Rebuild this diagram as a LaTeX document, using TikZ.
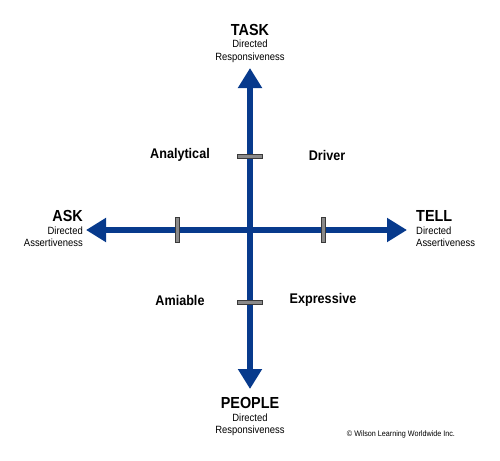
\documentclass[tikz,border=0pt]{standalone}
\usepackage{fontspec}
\setmainfont[FakeStretch=0.9]{Liberation Sans}
\usetikzlibrary{positioning, arrows.meta}
\definecolor{axisblue}{HTML}{073A8C}
\definecolor{tickgray}{HTML}{8A8A8A}
\definecolor{tickedge}{HTML}{3A3A3A}

\tikzset{
  axisline/.style={axisblue, line width=5.5pt,
    {Triangle[width=23pt, length=20pt]}-{Triangle[width=23pt, length=20pt]}},
  tickmark/.style={rectangle, fill=tickgray, draw=tickedge, line width=0.6pt, inner sep=0pt},
  quad/.style={font=\fontsize{14}{16}\selectfont\bfseries},
  pole/.style={font=\fontsize{10.5}{12.8}\selectfont, inner sep=0pt}
}

\begin{document}
\begin{tikzpicture}[x=1pt, y=-1pt]
  \useasboundingbox (0,0) rectangle (500,460);

  % Axes
  \coordinate (o) at (250,230);
  \coordinate (top) at (250,68);
  \coordinate (bot) at (250,389);
  \coordinate (lft) at (86,230);
  \coordinate (rgt) at (407,230);
  \draw[axisline] (bot) -- (top);
  \draw[axisline] (lft) -- (rgt);

  % Ticks
  \foreach \y/\n in {156/tu, 302/td} {
    \node[tickmark, minimum width=25pt, minimum height=4pt] (\n) at (250,\y) {};
  }
  \foreach \x/\n in {177/tl, 323/tr} {
    \node[tickmark, minimum width=4pt, minimum height=25pt] (\n) at (\x,230) {};
  }

  % Quadrants
  \node[quad] (analytical) at (180,155) {Analytical};
  \node[quad] (driver) at (327,155) {Driver};
  \node[quad] (amiable) at (180,300) {Amiable};
  \node[quad] (expressive) at (323,300) {Expressive};

  % Poles
  \node[pole, align=center, anchor=south] (task) at (250,63)
    {{\fontsize{16}{16}\selectfont\bfseries TASK}\\Directed\\Responsiveness};
  \node[pole, align=center, anchor=north] (people) at (250,397)
    {{\fontsize{16}{16}\selectfont\bfseries PEOPLE}\\Directed\\Responsiveness};
  \node[pole, align=right, anchor=north east] (ask) at (83,210)
    {{\fontsize{16}{16}\selectfont\bfseries ASK}\\Directed\\Assertiveness};
  \node[pole, align=left, anchor=north west] (tell) at (416,210)
    {{\fontsize{16}{16}\selectfont\bfseries TELL}\\Directed\\Assertiveness};

  % Copyright
  \node[font=\fontsize{8}{9}\selectfont] (copy) at (401,434) {© Wilson Learning Worldwide Inc.};
\end{tikzpicture}
\end{document}
